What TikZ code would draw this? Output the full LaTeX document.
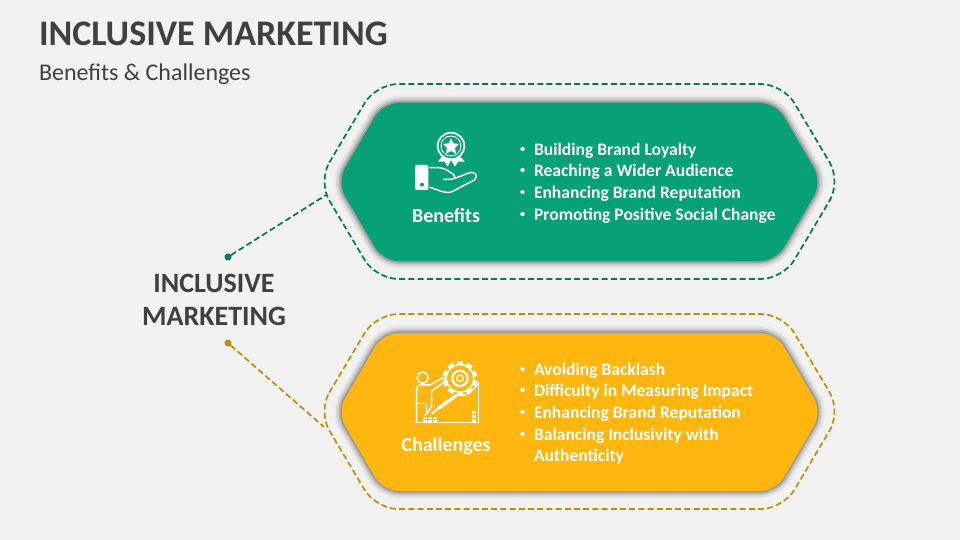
\documentclass[tikz,border=0pt]{standalone}
\usepackage{fontspec}
\setmainfont{Carlito}
\definecolor{bgc}{HTML}{F2F2F2}
\definecolor{txt}{HTML}{404040}
\definecolor{grn}{HTML}{06A177}
\definecolor{dgrn}{HTML}{047857}
\definecolor{ylw}{HTML}{FFB60F}
\definecolor{dylw}{HTML}{C58C08}
\tikzset{
 x=1pt,y=-1pt,
 every node/.style={inner sep=0pt,outer sep=0pt},
 title/.style={anchor=west,font=\fontsize{36}{36}\selectfont\bfseries,text=txt},
 subtitle/.style={anchor=west,font=\fontsize{24}{24}\selectfont,text=txt},
 hub/.style={anchor=center,font=\fontsize{28}{28}\selectfont\bfseries,text=txt},
 head/.style={anchor=center,font=\fontsize{20}{20}\selectfont\bfseries,text=white},
 item/.style={anchor=west,font=\fontsize{17.55}{17.55}\selectfont\bfseries,text=white},
 icon/.style={draw=white,line width=1.5pt,line cap=round,line join=round},
 conn/.style={line width=1.7pt,dash pattern=on 6pt off 3.2pt},
 dot/.style={circle,minimum size=7pt},
}
\newcommand{\hexpath}[5]{% left right top bottom inset
 (#1,{(#3+#4)/2}) -- ({#1+#5},#3) -- ({#2-#5},#3) -- (#2,{(#3+#4)/2}) -- ({#2-#5},#4) -- ({#1+#5},#4) -- cycle}
\newcommand{\hexblock}[5]{%
 \foreach \w/\o in {15/.03,12/.05,9/.07,6/.11,3/.16}{
  \draw[black,line width=\w pt,opacity=\o,line join=round,rounded corners=16pt] \hexpath{337}{822}{#1}{#2}{46};
 }
 \fill[#3,rounded corners=16pt] \hexpath{337}{822}{#1}{#2}{46};
 \draw[#4,conn,rounded corners=22pt] \hexpath{318}{841}{#5}{#5+195}{58};
}
\begin{document}
\begin{tikzpicture}
\useasboundingbox (0,0) rectangle (960,540);
\fill[bgc] (0,0) rectangle (960,540);
\node[title] (ttl) at (39,34) {INCLUSIVE MARKETING};
\node[subtitle] (sub) at (39,74) {Benefits \& Challenges};

\hexblock{103}{261}{grn}{dgrn}{84}
\hexblock{333}{491}{ylw}{dylw}{314}

\node[hub] (hub1) at (214,283) {INCLUSIVE};
\node[hub] (hub2) at (214,316) {MARKETING};

\node[dot,fill=dgrn] (d1) at (228,257) {};
\coordinate (e1) at (326,195);
\draw[dgrn,conn] (d1) -- (e1);
\node[dot,fill=dylw] (d2) at (228,343) {};
\coordinate (e2) at (324,427);
\draw[dylw,conn] (d2) -- (e2);

\node[head] (hb) at (446,216) {Benefits};
\node[head] (hc) at (446,446) {Challenges};

\foreach \n/\y/\t in {a/149/Building Brand Loyalty,b/170/Reaching a Wider Audience,c/192/Enhancing Brand Reputation,d/214/Promoting Positive Social Change}{
 \node[item] (i\n) at (534,\y+1.5) {\t};
 \fill[white] (522.5,\y) circle (2.2);
}
\foreach \n/\y/\t in {a/369/Avoiding Backlash,b/390/Difficulty in Measuring Impact,c/412/Enhancing Brand Reputation,d/434/Balancing Inclusivity with,e/455/Authenticity}{
 \node[item] (j\n) at (534,\y+1.5) {\t};
}
\foreach \y in {369,390,412,434}{\fill[white] (522.5,\y) circle (2.2);}

% Benefits icon
\begin{scope}[shift={(380,110)},x=.3333pt,y=-.3333pt]
 \draw[icon,line width=1.8pt] (213,108) circle (40);
 \draw[icon,line width=.9pt] (213,108) circle (30);
 \fill[white] (213,85) -- (220,100) -- (237,102) -- (225,114) -- (228,131) -- (213,123) -- (198,131) -- (201,114) -- (189,102) -- (206,100) -- cycle;
 \fill[white] (187,138) -- (174,155) -- (194,155) -- (203,170) -- (213,150) -- cycle;
 \fill[white] (239,138) -- (254,155) -- (234,155) -- (225,170) -- (213,150) -- cycle;
 \fill[white,rounded corners=1pt] (105,165) rectangle (145,240);
 \fill[grn] (126,224) circle (6);
 \draw[icon] (150,173) -- (178,173) .. controls (195,173) and (215,190) .. (222,195) .. controls (230,205) and (220,210) .. (190,208);
 \draw[icon] (225,205) -- (268,188) .. controls (285,183) and (297,198) .. (283,210) -- (220,243) .. controls (205,252) and (195,248) .. (150,232);
\end{scope}

% Challenges icon
\begin{scope}[shift={(380,345)},x=.3333pt,y=-.3333pt]
 \draw[icon] (128,98) circle (17);
 \draw[icon] (110,232) -- (110,135) .. controls (110,125) and (115,120) .. (125,120) -- (150,120) -- (185,100) .. controls (197,95) and (200,108) .. (190,113) -- (155,138) -- (155,185) -- (135,212);
 \draw[icon] (110,175) -- (140,175) -- (140,205);
 \draw[icon] (105,232) -- (295,232) -- (295,112);
 \draw[icon] (250,152) .. controls (265,150) and (280,135) .. (295,115);
 \draw[icon,line width=3.4pt] (175,190) -- (228,152);
 \draw[icon,line width=1.8pt] (157,205) -- (175,190);
 \foreach \a in {0,36,...,324}{
  \fill[white,rotate around={\a:(240,100)}] (231,48) rectangle (249,60);
 }
 \draw[icon,line width=1.5pt] (240,100) circle (41);
 \draw[icon,line width=2.2pt] (240,100) circle (23);
 \draw[icon,line width=1.4pt] (240,100) circle (10);
 \foreach \p in {(135,220),(150,220),(165,220),(135,228),(150,228),(165,228)}{
  \fill[white] \p ++(-6,-3) rectangle ++(12,6);
 }
 \foreach \yy in {198,210,222}{\fill[white] (276,\yy) rectangle (289,\yy+8);}
\end{scope}
\end{tikzpicture}
\end{document}
